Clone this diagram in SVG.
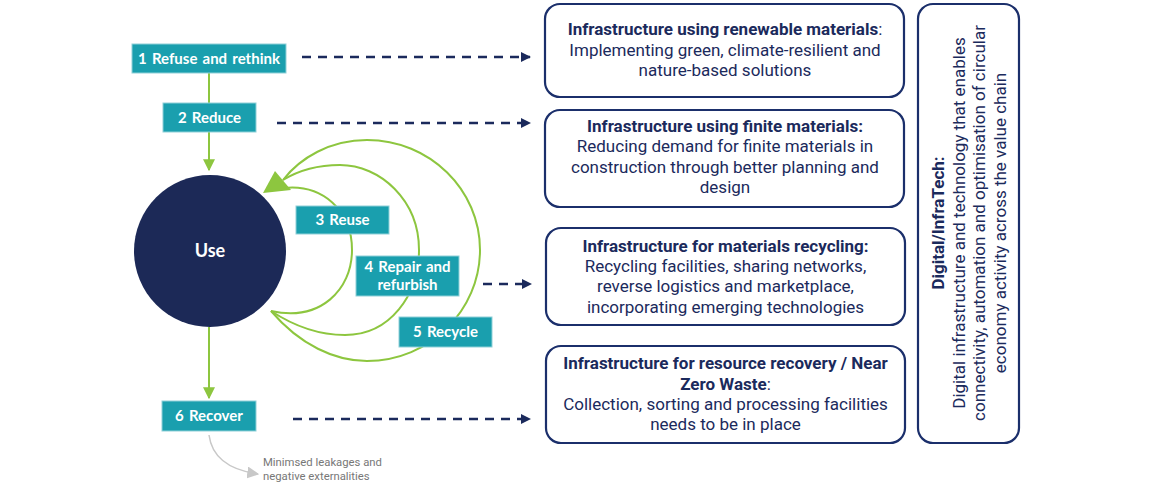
<svg xmlns="http://www.w3.org/2000/svg" width="1164" height="500" viewBox="0 0 1164 500">
<defs>
<style>
.step{fill:#1a9fae;stroke:#8fd0d8;stroke-width:1}
.stext{font-family:Lato,"Open Sans",sans-serif;font-weight:bold;font-size:15px;fill:#fff;text-anchor:middle;word-spacing:1.5px}
.green{fill:none;stroke:#8dc63f;stroke-width:2}
.dash{fill:none;stroke:#1b2a5c;stroke-width:2.5;stroke-dasharray:9 7}
.box{fill:#fff;stroke:#1b2f6b;stroke-width:2.2}
.btext{font-family:Roboto,"Liberation Sans",sans-serif;font-size:17px;fill:#1b2a5c;text-anchor:middle}
.b{font-weight:bold}
</style>
<marker id="navyArrow" viewBox="0 0 10 10" refX="9" refY="5" markerWidth="4" markerHeight="4" orient="auto" markerUnits="strokeWidth">
<path d="M0,0 L10,5 L0,10 z" fill="#1b2a5c"/>
</marker>
<marker id="greenArrow" viewBox="0 0 10 10" refX="9" refY="5" markerWidth="6" markerHeight="7" orient="auto" markerUnits="strokeWidth">
<path d="M0,0 L10,5 L0,10 z" fill="#8dc63f"/>
</marker>
<marker id="grayArrow" viewBox="0 0 10 10" refX="9" refY="5" markerWidth="8" markerHeight="8" orient="auto" markerUnits="strokeWidth">
<path d="M0,0 L10,5 L0,10 z" fill="#c8c8c8"/>
</marker>
</defs>
<rect width="1164" height="500" fill="#fff"/>

<g id="connectors">
<line x1="209" y1="73" x2="209" y2="103" class="green"/>
<line x1="209" y1="132" x2="209" y2="170" class="green" marker-end="url(#greenArrow)"/>
<line x1="209" y1="327" x2="209" y2="398" class="green" marker-end="url(#greenArrow)"/>
<path d="M271,311 C320,322 352,290 352,250 C352,210 322,184 284,188" class="green"/>
<path d="M271,311 C300,330 325,335 345,335 C390,335 419,295 419,250 C419,200 380,165 340,165 C315,165 296,172 283,180" class="green"/>
<path d="M271,311 C300,345 335,361 367,361 C430,361 480,310 480,250 C480,190 430,140 367,140 C330,140 300,158 283,180" class="green"/>
<polygon points="263,193 275,171 291,190" fill="#8dc63f"/>
<path d="M209,435 C212,458 230,470 258,474" fill="none" stroke="#c8c8c8" stroke-width="1.5" marker-end="url(#grayArrow)"/>
<line x1="302" y1="57" x2="530" y2="57" class="dash" marker-end="url(#navyArrow)"/>
<line x1="277" y1="123" x2="530" y2="123" class="dash" marker-end="url(#navyArrow)"/>
<line x1="483" y1="284" x2="531" y2="284" class="dash" marker-end="url(#navyArrow)"/>
<line x1="293" y1="419" x2="530" y2="419" class="dash" marker-end="url(#navyArrow)"/>
</g>

<g id="step1"><rect x="132" y="44" width="154" height="29" class="step"/><text x="209" y="64" class="stext">1 Refuse and rethink</text></g>
<g id="step2"><rect x="163" y="103" width="93" height="29" class="step"/><text x="209.5" y="123" class="stext">2 Reduce</text></g>
<g id="use"><circle cx="210" cy="251" r="76" fill="#1c2957"/><text x="210" y="257" font-family="Lato,'Open Sans',sans-serif" font-weight="bold" font-size="18" fill="#fff" text-anchor="middle">Use</text></g>
<g id="step3"><rect x="296" y="206" width="93" height="28" class="step"/><text x="342.5" y="225" class="stext">3 Reuse</text></g>
<g id="step4"><rect x="356" y="256" width="103" height="40" class="step"/><text x="407.5" y="272" class="stext">4 Repair and</text><text x="407.5" y="290" class="stext">refurbish</text></g>
<g id="step5"><rect x="399" y="317" width="93" height="30" class="step"/><text x="445.5" y="337" class="stext">5 Recycle</text></g>
<g id="step6"><rect x="162" y="401" width="94" height="30" class="step"/><text x="209" y="421" class="stext">6 Recover</text></g>
<g id="leakage"><text font-family="Roboto,'Liberation Sans',sans-serif" font-size="11.3" fill="#777"><tspan x="263" y="466">Minimsed leakages and</tspan><tspan x="263" y="480">negative externalities</tspan></text></g>

<g id="boxA"><rect x="545" y="4" width="359" height="93" rx="15" class="box"/>
<text class="btext"><tspan x="725" y="35"><tspan class="b">Infrastructure using renewable materials</tspan>:</tspan><tspan x="725" y="56">Implementing green, climate-resilient and</tspan><tspan x="725" y="76">nature-based solutions</tspan></text></g>
<g id="boxB"><rect x="545" y="110" width="359" height="97" rx="15" class="box"/>
<text class="btext"><tspan x="725" y="132" class="b">Infrastructure using finite materials:</tspan><tspan x="725" y="152">Reducing demand for finite materials in</tspan><tspan x="725" y="173">construction through better planning and</tspan><tspan x="725" y="193">design</tspan></text></g>
<g id="boxC"><rect x="546" y="228" width="359" height="97" rx="15" class="box"/>
<text class="btext"><tspan x="725.5" y="252" class="b">Infrastructure for materials recycling:</tspan><tspan x="725.5" y="272">Recycling facilities, sharing networks,</tspan><tspan x="725.5" y="292">reverse logistics and marketplace,</tspan><tspan x="725.5" y="313">incorporating emerging technologies</tspan></text></g>
<g id="boxD"><rect x="546" y="346" width="359" height="97" rx="15" class="box"/>
<text class="btext"><tspan x="725.5" y="369" class="b">Infrastructure for resource recovery / Near</tspan><tspan x="725.5" y="390"><tspan class="b">Zero Waste</tspan>:</tspan><tspan x="725.5" y="410">Collection, sorting and processing facilities</tspan><tspan x="725.5" y="430">needs to be in place</tspan></text></g>
<g id="boxE"><rect x="918" y="4" width="101" height="439" rx="15" class="box"/>
<text class="btext" transform="translate(968,223) rotate(-90)"><tspan x="0" y="-24" class="b">Digital/InfraTech:</tspan><tspan x="0" y="-3.5">Digital infrastructure and technology that enables</tspan><tspan x="0" y="17">connectivity, automation and optimisation of circular</tspan><tspan x="0" y="37.5">economy activity across the value chain</tspan></text></g>
</svg>
